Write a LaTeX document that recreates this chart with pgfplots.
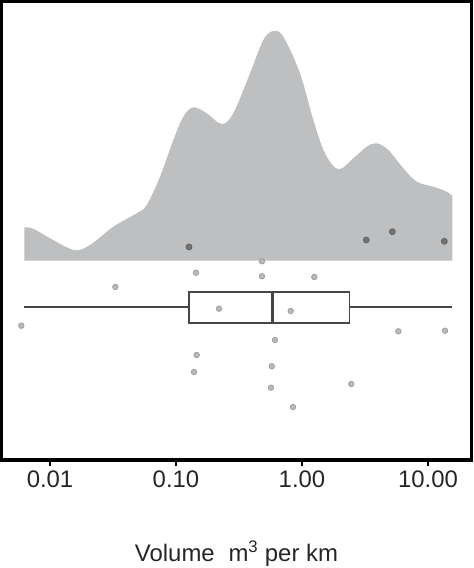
\documentclass[border=0pt]{standalone}
\usepackage{pgfplots}
\pgfplotsset{compat=1.18}
\usepgfplotslibrary{statistics}
\usepackage{fontspec}
\setmainfont{Liberation Sans}

\definecolor{densgray}{RGB}{190,191,192}
\definecolor{boxline}{RGB}{70,70,70}
\definecolor{ptlight}{RGB}{185,185,185}
\definecolor{ptlightedge}{RGB}{150,150,150}
\definecolor{ptdark}{RGB}{115,115,115}
\definecolor{ptdarkedge}{RGB}{90,90,90}

\begin{document}
\begin{tikzpicture}
\useasboundingbox (0,0) rectangle (474bp,568bp);
\begin{axis}[
    at={(1.5bp,108bp)}, anchor=south west,
    scale only axis,
    width=470bp, height=458.5bp,
    xmode=log,
    xmin=0.00412, xmax=22.14,
    ymin=108, ymax=566.5,
    axis line style={black, line width=3bp},
    xtick={0.01,0.1,1,10},
    xticklabels={0.01,0.10,1.00,10.00},
    ytick=\empty,
    xtick pos=bottom,
    tick align=outside,
    major tick length=6bp,
    minor tick num=0,
    xminorticks=false,
    every tick/.style={black, line width=2bp},
    tick label style={font=\fontsize{24}{28}\selectfont, text=black!85},
    xticklabel style={yshift=-1bp},
    xlabel={Volume\hspace{0.3em} m\textsuperscript{3} per km},
    xlabel style={at={(axis description cs:0.5,0)}, anchor=base,
                  yshift=-101.7bp, font=\fontsize{24}{28}\selectfont, text=black!85},
    clip=true,
]
% density (cloud)
\addplot[fill=densgray, draw=none, smooth, tension=0.55] coordinates {
    (0.00625,340.7) (0.00737,339.3) (0.0100,329.7) (0.0155,318) (0.02077,323)
    (0.03179,341.3) (0.04875,354.7) (0.05854,363) (0.07464,391.3) (0.09519,428)
    (0.1143,451.3) (0.1372,460.7) (0.1752,454.7) (0.2305,444) (0.2849,454.7)
    (0.3867,494.7) (0.4930,528) (0.5919,537) (0.7106,531.3) (0.9641,494.7)
    (1.229,448) (1.522,414.7) (1.942,398.7) (2.554,409.7) (3.263,421.3)
    (3.916,424.7) (4.841,418) (6.368,399.7) (8.135,386.3) (11.02,381.3)
    (14.08,376.3) (15.59,372)
} |- (axis cs:0.00625,307.3) -- cycle;

% boxplot
\addplot[draw=boxline, line width=1.6bp,
    boxplot prepared={
        lower whisker=0.00625, lower quartile=0.1268, median=0.581,
        upper quartile=2.39, upper whisker=15.5,
        draw position=260.7, box extend=31, whisker extend=0,
        every median/.style={line width=2.8bp}
    }] coordinates {};

% jittered points inside the cloud
\addplot[only marks, mark=*, mark size=3bp,
    mark options={fill=ptdark, draw=ptdarkedge, line width=0.6bp}] coordinates {
    (0.1268,321) (3.24,328) (5.21,336.3) (13.47,326.7)
};
% jittered points below the cloud
\addplot[only marks, mark=*, mark size=2.8bp,
    mark options={fill=ptlight, draw=ptlightedge, line width=0.6bp}] coordinates {
    (0.481,306.7) (0.144,295.3) (0.481,291.7) (1.252,291) (0.0330,281)
    (0.2194,259.3) (0.813,257) (0.00592,242.3) (5.81,236.7) (13.64,237.3)
    (0.610,228) (0.146,213) (0.575,201.7) (0.139,196) (0.567,180.3)
    (2.46,184) (0.848,161)
};
\end{axis}
\end{tikzpicture}
\end{document}
